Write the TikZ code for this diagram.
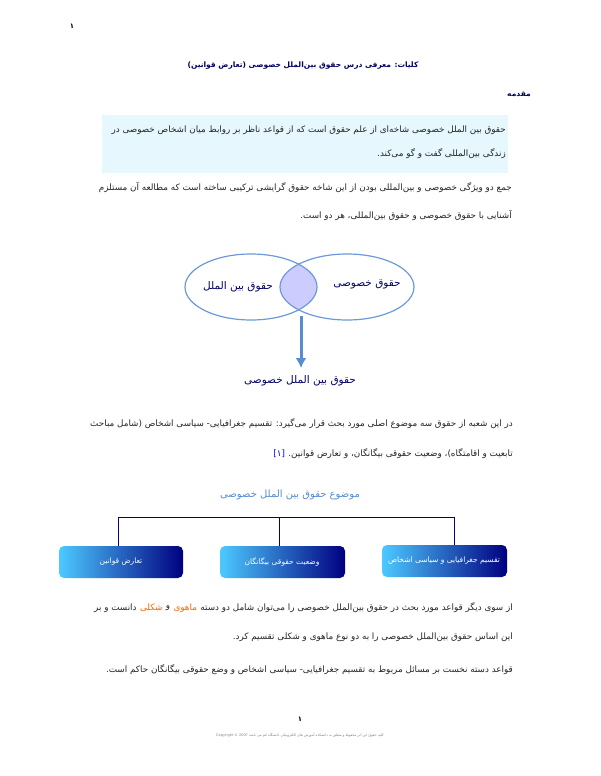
\documentclass[tikz,border=0pt]{standalone}
\usepackage{fontspec}
\usetikzlibrary{arrows.meta}
\newfontfamily\arabicfont[Script=Arabic]{DejaVu Sans}
\setmainfont{DejaVu Sans}
\TeXXeTstate=1
\begin{document}
\begin{tikzpicture}[x=1pt,y=-1pt,
  body/.style={anchor=east,inner sep=0,font=\arabicfont\fontsize{8.8}{10}\selectfont,text=black!85},
  ttl/.style={inner sep=0,font=\arabicfont\bfseries\fontsize{7.5}{9}\selectfont,text=blue!40!black},
  venn/.style={draw=cyan!50!blue!60,line width=1.2pt},
  vlab/.style={inner sep=0,font=\arabicfont\fontsize{10.5}{12}\selectfont,text=blue!40!black},
  topic/.style={draw=none,rounded corners=5pt,left color=cyan!70!blue!70,right color=blue!50!black},
  tlab/.style={inner sep=0,font=\arabicfont\fontsize{7.5}{9}\selectfont,text=white},
  tree/.style={draw=blue!50!black,line width=1pt}]
\useasboundingbox (0,0) rectangle (600,776);
\fill[white] (0,0) rectangle (600,776);
\node[inner sep=0,font=\arabicfont\bfseries\fontsize{7}{8}\selectfont] (pn) at (72,26) {\beginR ۱\endR};
\node[ttl] (title) at (303,66) {\beginR کلیات: معرفی درس حقوق بین‌الملل خصوصی (تعارض قوانین)\endR};
\node[ttl,anchor=east] (intro) at (531,94) {\beginR مقدمه\endR};
\fill[cyan!10] (102,115) rectangle (508,173);
\node[body] (l1) at (506,130) {\beginR حقوق بین الملل خصوصی شاخه‌ای از علم حقوق است که از قواعد ناظر بر روابط میان اشخاص خصوصی در\endR};
\node[body] (l2) at (506,154) {\beginR زندگی بین‌المللی گفت و گو می‌کند.\endR};
\node[body] (l3) at (512,187) {\beginR جمع دو ویژگی خصوصی و بین‌المللی بودن از این شاخه حقوق گرایشی ترکیبی ساخته است که مطالعه آن مستلزم\endR};
\node[body] (l4) at (512,215) {\beginR آشنایی با حقوق خصوصی و حقوق بین‌المللی، هر دو است.\endR};
% Venn
\begin{scope}
\clip (251,287) ellipse [x radius=66,y radius=33];
\fill[blue!20!white] (347,287) ellipse [x radius=67,y radius=33];
\end{scope}
\draw[venn] (251,287) ellipse [x radius=66,y radius=33];
\draw[venn] (347,287) ellipse [x radius=67,y radius=33];
\node[vlab] (vl) at (238,287) {\beginR حقوق بین الملل\endR};
\node[vlab] (vr) at (367,284) {\beginR حقوق خصوصی\endR};
\coordinate (vb) at (301,316);
\node[vlab] (vres) at (300,381) {\beginR حقوق بین الملل خصوصی\endR};
\draw[cyan!50!blue!70,line width=3pt,-{Latex[length=10pt,width=11pt]}] (vb) -- (301,368);
\node[body] (l5) at (513,424) {\beginR در این شعبه از حقوق سه موضوع اصلی مورد بحث قرار می‌گیرد: تقسیم جغرافیایی- سیاسی اشخاص (شامل مباحث\endR};
\node[body] (l6) at (513,454) {\beginR تابعیت و اقامتگاه)، وضعیت حقوقی بیگانگان، و تعارض قوانین.\endR};
\node[body,text=blue,anchor=east] (ref) at ([xshift=-3pt]l6.west) {\beginR [۱]\endR};
\node[inner sep=0,font=\arabicfont\fontsize{10}{12}\selectfont,text=cyan!50!blue!70] (thead) at (290,495) {\beginR موضوع حقوق بین الملل خصوصی\endR};
\shade[topic] (59,546) rectangle (183,578);
\shade[topic] (220,546) rectangle (345,578);
\shade[topic] (382,545) rectangle (507,577);
\node[tlab] (t1) at (121,562) {\beginR تعارض قوانین\endR};
\node[tlab] (t2) at (282,562) {\beginR وضعیت حقوقی بیگانگان\endR};
\node[tlab] (t3) at (444,561) {\beginR تقسیم جغرافیایی و سیاسی اشخاص\endR};
\draw[tree] (118,546) -- (118,517) -- (454,517) -- (454,545);
\draw[tree] (279,517) -- (279,546);
\node[body] (l7a) at (513,608) {\beginR از سوی دیگر قواعد مورد بحث در حقوق بین‌الملل خصوصی را می‌توان شامل دو دسته\endR};
\node[body,text=orange!80!red] (l7b) at ([xshift=-3pt]l7a.west) {\beginR ماهوی\endR};
\node[body] (l7c) at ([xshift=-3pt]l7b.west) {\beginR و\endR};
\node[body,text=orange!80!red] (l7d) at ([xshift=-3pt]l7c.west) {\beginR شکلی\endR};
\node[body] (l7e) at ([xshift=-3pt]l7d.west) {\beginR دانست و بر\endR};
\node[body] (l8) at (513,637) {\beginR این اساس حقوق بین‌الملل خصوصی را به دو نوع ماهوی و شکلی تقسیم کرد.\endR};
\node[body] (l9) at (513,670) {\beginR قواعد دسته نخست بر مسائل مربوط به تقسیم جغرافیایی- سیاسی اشخاص و وضع حقوقی بیگانگان حاکم است.\endR};
\node[inner sep=0,font=\arabicfont\bfseries\fontsize{7}{8}\selectfont] (pn2) at (300,719) {\beginR ۱\endR};
\node[inner sep=0,font=\arabicfont\fontsize{3.5}{4}\selectfont,text=gray] (copy) at (300,735) {\beginR کلیه حقوق این اثر محفوظ و متعلق به دانشکده آموزش های الکترونیکی دانشگاه قم می باشد \beginL Copyright © 2007\endL\endR};
\end{tikzpicture}
\end{document}
